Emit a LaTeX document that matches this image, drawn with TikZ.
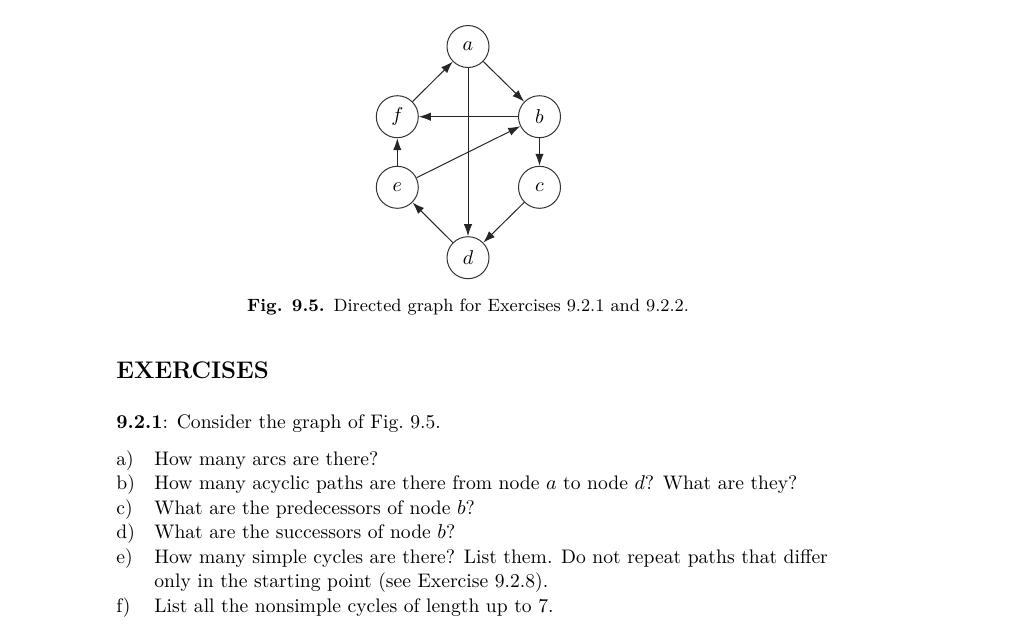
\documentclass[tikz,border=0pt]{standalone}
\usetikzlibrary{arrows.meta}
\begin{document}
\begin{tikzpicture}[x=0.5pt,y=-0.5pt,
  vert/.style={circle,draw=black!80,line width=0.5pt,minimum size=21pt,inner sep=0pt},
  arc/.style={draw=black!85,line width=0.5pt,-{Latex[length=6pt,width=4.2pt]}},
  txt/.style={anchor=base west,inner sep=0pt,font=\fontsize{9.8pt}{12pt}\selectfont}]
\useasboundingbox (0,0) rectangle (1024,627);
\node[vert] (a) at (468,46.5) {$a$};
\node[vert] (b) at (539.5,116.7) {$b$};
\node[vert] (f) at (397.3,116.7) {$f$};
\node[vert] (e) at (397.3,187.3) {$e$};
\node[vert] (c) at (539.5,187.3) {$c$};
\node[vert] (d) at (468,257.7) {$d$};
\draw[arc] (f) -- (a);
\draw[arc] (a) -- (b);
\draw[arc] (b) -- (f);
\draw[arc] (b) -- (c);
\draw[arc] (e) -- (f);
\draw[arc] (e) -- (b);
\draw[arc] (c) -- (d);
\draw[arc] (d) -- (e);
\draw[arc] (a) -- (d);
\node[anchor=base,inner sep=0pt,font=\fontsize{8.9pt}{11pt}\selectfont] (cap) at (468,311.7) {\textbf{Fig. 9.5.}\enspace Directed graph for Exercises 9.2.1 and 9.2.2.};
\node[anchor=base west,inner sep=0pt,font=\large\bfseries] (ex) at (116,378) {EXERCISES};
\node[txt] (q) at (116,428) {\textbf{9.2.1}: Consider the graph of Fig.~9.5.};
\node[txt] (la) at (116,465) {a)};
\node[txt] (ta) at (154,465) {How many arcs are there?};
\node[txt] (lb) at (116,489.5) {b)};
\node[txt] (tb) at (154,489.5) {How many acyclic paths are there from node $a$ to node $d$? What are they?};
\node[txt] (lc) at (116,514) {c)};
\node[txt] (tc) at (154,514) {What are the predecessors of node $b$?};
\node[txt] (ld) at (116,538.5) {d)};
\node[txt] (td) at (154,538.5) {What are the successors of node $b$?};
\node[txt] (le) at (116,563) {e)};
\node[txt] (te) at (154,563) {How many simple cycles are there? List them. Do not repeat paths that differ};
\node[txt] (te2) at (154,587.5) {only in the starting point (see Exercise 9.2.8).};
\node[txt] (lf) at (116,612) {f)};
\node[txt] (tf) at (154,612) {List all the nonsimple cycles of length up to 7.};
\end{tikzpicture}
\end{document}
